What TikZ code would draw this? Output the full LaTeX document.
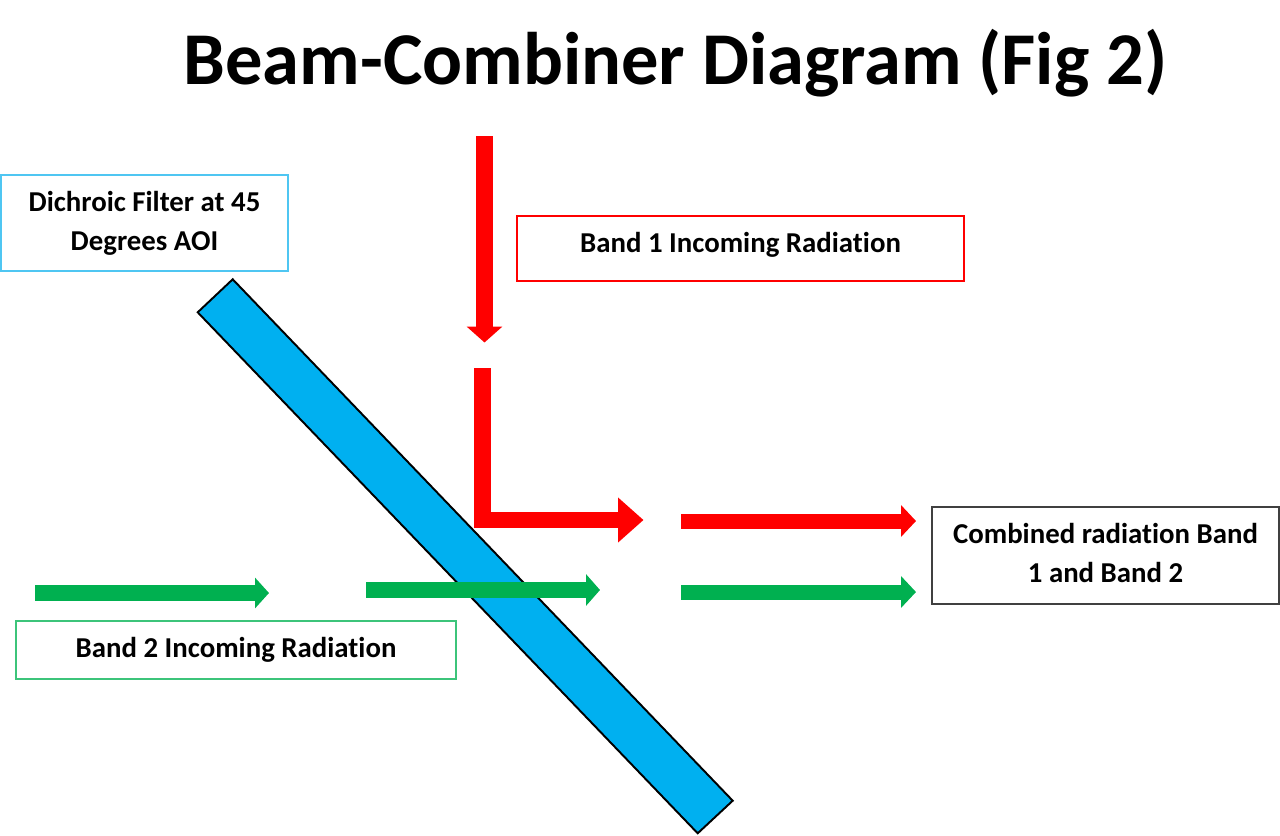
\documentclass[tikz,border=0pt]{standalone}
\usepackage{fontspec}
\setmainfont[Ligatures=NoCommon]{Carlito}
\usetikzlibrary{arrows.meta}

\definecolor{filterblue}{HTML}{00B0F0}
\definecolor{boxblue}{HTML}{4FC6F2}
\definecolor{beamred}{HTML}{FF0000}
\definecolor{beamgreen}{HTML}{00B050}
\definecolor{boxgreen}{HTML}{3CC47A}
\definecolor{boxgray}{HTML}{404040}

\begin{document}
\begin{tikzpicture}[
    x=0.02cm, y=-0.02cm,
    font=\fontsize{16.4}{22.2}\selectfont\bfseries,
    lbl/.style={draw, line width=0.9pt, align=center, inner sep=0pt},
    filt/.style={fill=filterblue, draw=black, line width=1.1pt, line join=miter},
    red/.style={draw=beamred, line join=miter},
    grn/.style={draw=beamgreen},
    head/.style 2 args={-{Triangle[width=#1, length=#2]}},
  ]

  \useasboundingbox (0,0) rectangle (1280,835);

  % -- Title
  \node[font=\fontsize{42.4}{50}\selectfont\bfseries, anchor=base]
    (title) at (675.5,84) {Beam-Combiner Diagram (Fig 2)};

  % -- Labels
  \node[lbl, draw=boxblue, minimum width=5.74cm, minimum height=1.92cm]
    (dich) at (144.5,223) {Dichroic Filter at 45\\Degrees AOI};
  \node[lbl, draw=beamred, minimum width=8.94cm, minimum height=1.30cm,
        text depth=0.24cm]
    (band1) at (740.5,248.5) {Band 1 Incoming Radiation};
  \node[lbl, draw=boxgreen, minimum width=8.80cm, minimum height=1.16cm]
    (band2) at (236,650) {Band 2 Incoming Radiation};
  \node[lbl, draw=boxgray, minimum width=6.94cm, minimum height=1.94cm,
        text depth=0.12cm]
    (comb) at (1105.5,555.5) {Combined radiation Band\\1 and Band 2};

  % -- Filter plate
  \draw[filt] (232.7,279.3) -- (732.7,800.7) -- (697.7,833.3)
    -- (197.7,312.3) -- cycle;

  % -- Beam end points
  \coordinate (r1a) at (484.5,136);   \coordinate (r1b) at (484.5,342.5);
  \coordinate (r2a) at (482.5,368);   \coordinate (r2c) at (482.5,520);
  \coordinate (r2b) at (643.5,520);
  \coordinate (r3a) at (681,521);     \coordinate (r3b) at (916,521);
  \coordinate (g1a) at (35,593);      \coordinate (g1b) at (269,593);
  \coordinate (g2a) at (366,590);     \coordinate (g2b) at (600,590);
  \coordinate (g3a) at (681,592);     \coordinate (g3b) at (916,592);

  % -- Band 1 (red)
  \draw[red, line width=0.34cm, head={0.70cm}{0.32cm}] (r1a) -- (r1b);
  \draw[red, line width=0.33cm, head={0.87cm}{0.51cm}] (r2a) -- (r2c) -- (r2b);
  \draw[red, line width=0.30cm, head={0.62cm}{0.30cm}] (r3a) -- (r3b);

  % -- Band 2 (green)
  \draw[grn, line width=0.32cm, head={0.60cm}{0.28cm}] (g1a) -- (g1b);
  \draw[grn, line width=0.32cm, head={0.62cm}{0.28cm}] (g2a) -- (g2b);
  \draw[grn, line width=0.30cm, head={0.62cm}{0.30cm}] (g3a) -- (g3b);

\end{tikzpicture}
\end{document}
